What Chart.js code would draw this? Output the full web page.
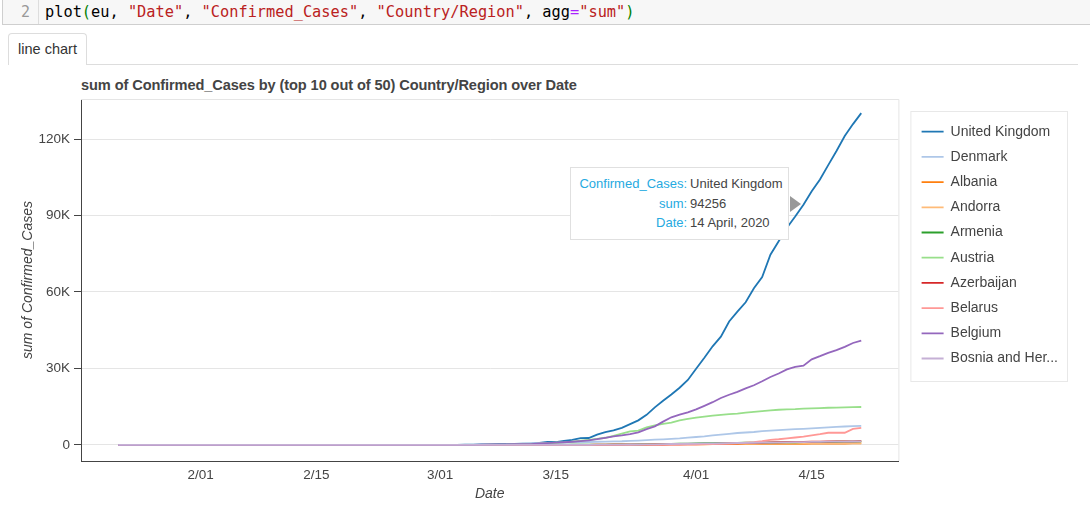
<!DOCTYPE html>
<html>
<head>
<meta charset="utf-8">
<script src="https://cdn.jsdelivr.net/npm/chart.js@4.4.1/dist/chart.umd.min.js"></script>
<style>
  body { margin: 0; width: 1090px; height: 507px; position: relative; overflow: hidden; background: #fff;
         font-family: "Liberation Sans", Arial, Helvetica, sans-serif; color: #444; }
  #cell { position: absolute; left: 2px; top: -12px; right: -5px; height: 35px; background: #f7f7f7; border: 1px solid #cfcfcf; }
  #gutter { position: absolute; left: 0; top: 0; width: 35px; height: 35px; border-right: 1px solid #ddd; }
  #gutter span { position: absolute; right: 8px; top: 11px; font: 15px "DejaVu Sans Mono", monospace; color: #999; line-height: 24px; }
  #code { position: absolute; left: 42px; top: 11px; font: 15.3px "DejaVu Sans Mono", monospace; line-height: 24px; color: #000; white-space: pre; }
  #code .s { color: #ba2121; } #code .o { color: #aa22ff; } #code .p { color: #008000; }
  #tabline { position: absolute; left: 8px; top: 64px; width: 1070px; border-top: 1px solid #ddd; }
  #tab { position: absolute; left: 8px; top: 33px; width: 77px; height: 31px; border: 1px solid #ddd; border-bottom: none;
         border-radius: 4px 4px 0 0; background: #fff; font-size: 14.5px; line-height: 31px; text-align: center; color: #333; }
  #title { position: absolute; left: 81px; top: 77px; font-size: 14.6px; font-weight: bold; line-height: 17px; color: #444;
           white-space: nowrap; letter-spacing: -0.1px; }
  #chart { position: absolute; left: 0; top: 70px; }
  #tip { position: absolute; display: none; background: #fff; border: 1px solid #e0e0e0; padding: 6px 5px 6px 8px; font-size: 13px; }
  #tip table { border-collapse: collapse; }
  #tip td { padding: 0; line-height: 19.5px; white-space: nowrap; }
  #tip td.k { color: #26aae1; text-align: right; padding-right: 3px; }
  #tip td.v { color: #444; }
  #tipArrow { position: absolute; display: none; width: 0; height: 0; border-left: 11px solid #999;
              border-top: 8px solid transparent; border-bottom: 8px solid transparent; }
</style>
</head>
<body>
<div id="cell">
  <div id="gutter"><span>2</span></div>
  <div id="code">plot<span class="p">(</span>eu, <span class="s">"Date"</span>, <span class="s">"Confirmed_Cases"</span>, <span class="s">"Country/Region"</span>, agg<span class="o">=</span><span class="s">"sum"</span><span class="p">)</span></div>
</div>
<div id="tabline"></div>
<div id="tab">line chart</div>
<div id="title">sum of Confirmed_Cases by (top 10 out of 50) Country/Region over Date</div>
<canvas id="chart" width="1090" height="437"></canvas>
<div id="tip"></div>
<div id="tipArrow"></div>
<script>
// daily totals from 22 Jan 2020 (index 0) to 21 Apr 2020 (index 90)
const countries = ['United Kingdom', 'Denmark', 'Albania', 'Andorra', 'Armenia', 'Austria',
                   'Azerbaijan', 'Belarus', 'Belgium', 'Bosnia and Herzegovina'];
const colors = ['#1f77b4', '#aec7e8', '#ff7f0e', '#ffbb78', '#2ca02c', '#98df8a',
                '#d62728', '#ff9896', '#9467bd', '#c5b0d5'];

const unitedKingdom = [
  0, 0, 0, 0, 0, 0, 0, 0, 0, 2,
  2, 2, 2, 2, 2, 2, 3, 3, 3, 8, 8, 9, 9, 9, 9, 9, 9, 9, 9, 9, 9, 9, 9, 13, 13, 13, 15, 20, 23,
  36, 40, 51, 86, 116, 164, 207, 274, 322, 384, 459, 459, 802, 1144, 1145, 1551, 1960, 2642, 2716, 4014,
  5067, 5745, 6726, 8164, 9640, 11812, 14745, 17312, 19780, 22453, 25481,
  29865, 34173, 38689, 42477, 48436, 52279, 55949, 61474, 65872, 74605, 79874, 85206, 89570, 94256,
  99483, 104145, 109769, 115314, 121172, 125856, 130172
];
const denmark = [
  0, 0, 0, 0, 0, 0, 0, 0, 0, 0,
  0, 0, 0, 0, 0, 0, 0, 0, 0, 0, 0, 0, 0, 0, 0, 0, 0, 0, 0, 0, 0, 0, 0, 0, 0, 0, 1, 1, 1,
  3, 4, 4, 6, 11, 23, 23, 35, 90, 262, 442, 615, 801, 827, 864, 914, 977, 1057, 1151, 1255,
  1326, 1395, 1450, 1591, 1724, 1877, 2046, 2201, 2395, 2577, 2860,
  3107, 3386, 3757, 4077, 4369, 4681, 4875, 5071, 5402, 5635, 5819, 5996, 6191, 6318,
  6511, 6681, 6879, 7073, 7242, 7384, 7515
];
const albania = [
  0, 0, 0, 0, 0, 0, 0, 0, 0, 0,
  0, 0, 0, 0, 0, 0, 0, 0, 0, 0, 0, 0, 0, 0, 0, 0, 0, 0, 0, 0, 0, 0, 0, 0, 0, 0, 0, 0, 0,
  0, 0, 0, 0, 0, 0, 0, 0, 2, 10, 12, 23, 33, 38, 42, 51, 55, 59, 64, 70,
  76, 89, 104, 123, 146, 174, 186, 197, 212, 223, 243,
  259, 277, 304, 333, 361, 377, 383, 400, 409, 416, 433, 446, 467, 475,
  494, 518, 539, 548, 562, 584, 609
];
const andorra = [
  0, 0, 0, 0, 0, 0, 0, 0, 0, 0,
  0, 0, 0, 0, 0, 0, 0, 0, 0, 0, 0, 0, 0, 0, 0, 0, 0, 0, 0, 0, 0, 0, 0, 0, 0, 0, 0, 0, 0,
  0, 1, 1, 1, 1, 1, 1, 1, 1, 1, 1, 1, 1, 1, 1, 2, 39, 39, 53, 75,
  88, 113, 133, 164, 188, 224, 267, 308, 334, 370, 376,
  390, 428, 439, 466, 501, 525, 545, 564, 583, 601, 601, 638, 646, 659,
  673, 673, 696, 704, 713, 717, 717
];
const armenia = [
  0, 0, 0, 0, 0, 0, 0, 0, 0, 0,
  0, 0, 0, 0, 0, 0, 0, 0, 0, 0, 0, 0, 0, 0, 0, 0, 0, 0, 0, 0, 0, 0, 0, 0, 0, 0, 0, 0, 0,
  1, 1, 1, 1, 1, 1, 1, 1, 1, 1, 1, 4, 8, 18, 26, 52, 78, 84, 115, 136,
  160, 194, 235, 249, 265, 290, 329, 407, 424, 482, 532,
  571, 663, 736, 770, 822, 833, 853, 881, 921, 937, 967, 1013, 1039, 1067,
  1111, 1159, 1201, 1248, 1291, 1339, 1401
];
const austria = [
  0, 0, 0, 0, 0, 0, 0, 0, 0, 0,
  0, 0, 0, 0, 0, 0, 0, 0, 0, 0, 0, 0, 0, 0, 0, 0, 0, 0, 0, 0, 0, 0, 0, 0, 2, 2, 3, 3, 9,
  14, 18, 21, 29, 41, 55, 79, 104, 131, 182, 246, 302, 504, 655, 860, 1018, 1332, 1646, 2013, 2388,
  2814, 3582, 4474, 5283, 5588, 6909, 7657, 8271, 8788, 9618, 10180,
  10711, 11129, 11524, 11781, 12051, 12297, 12639, 12942, 13244, 13555, 13806, 13945, 14041, 14226,
  14336, 14476, 14595, 14671, 14749, 14795, 14873
];
const azerbaijan = [
  0, 0, 0, 0, 0, 0, 0, 0, 0, 0,
  0, 0, 0, 0, 0, 0, 0, 0, 0, 0, 0, 0, 0, 0, 0, 0, 0, 0, 0, 0, 0, 0, 0, 0, 0, 0, 0, 1, 1,
  3, 3, 3, 3, 6, 6, 9, 9, 9, 11, 11, 11, 15, 15, 23, 28, 28, 28, 44, 44,
  53, 65, 72, 87, 93, 122, 165, 182, 209, 273, 298,
  359, 400, 443, 521, 584, 641, 717, 822, 926, 991, 1058, 1098, 1148, 1197,
  1253, 1283, 1340, 1373, 1398, 1436, 1480
];
const belarus = [
  0, 0, 0, 0, 0, 0, 0, 0, 0, 0,
  0, 0, 0, 0, 0, 0, 0, 0, 0, 0, 0, 0, 0, 0, 0, 0, 0, 0, 0, 0, 0, 0, 0, 0, 0, 0, 0, 1, 1,
  1, 1, 1, 6, 6, 6, 6, 6, 6, 9, 9, 12, 27, 27, 27, 36, 36, 51, 51, 69,
  76, 76, 81, 81, 86, 86, 94, 94, 94, 152, 152,
  163, 304, 351, 440, 562, 700, 861, 1066, 1486, 1981, 2226, 2578, 2919, 3281,
  3728, 4204, 4779, 4779, 4779, 6264, 6723
];
const belgium = [
  0, 0, 0, 0, 0, 0, 0, 0, 0, 0,
  0, 0, 0, 1, 1, 1, 1, 1, 1, 1, 1, 1, 1, 1, 1, 1, 1, 1, 1, 1, 1, 1, 1, 1, 1, 1, 1, 1, 1,
  2, 8, 13, 23, 50, 109, 169, 200, 239, 267, 314, 314, 559, 689, 886, 1058, 1243, 1486, 1795, 2257,
  2815, 3401, 3743, 4269, 4937, 6235, 7284, 9134, 10836, 11899, 12775,
  13964, 15348, 16770, 18431, 19691, 20814, 22194, 23403, 24983, 26667, 28018, 29647, 30589, 31119,
  33573, 34809, 36138, 37183, 38496, 39983, 40956
];
const bosnia = [
  0, 0, 0, 0, 0, 0, 0, 0, 0, 0,
  0, 0, 0, 0, 0, 0, 0, 0, 0, 0, 0, 0, 0, 0, 0, 0, 0, 0, 0, 0, 0, 0, 0, 0, 0, 0, 0, 0, 0,
  0, 0, 0, 0, 2, 2, 3, 3, 3, 3, 4, 11, 13, 18, 24, 25, 26, 38, 63, 89,
  93, 126, 136, 166, 176, 237, 258, 323, 368, 420, 459,
  533, 579, 624, 654, 674, 764, 804, 858, 901, 946, 1009, 1037, 1083, 1110,
  1167, 1214, 1268, 1285, 1309, 1342, 1368
];
const series = [unitedKingdom, denmark, albania, andorra, armenia, austria, azerbaijan, belarus, belgium, bosnia];

const xTickDays = [10, 24, 39, 53, 70, 84];
const xTickLabels = ['2/01', '2/15', '3/01', '3/15', '4/01', '4/15'];
const yTicks = [0, 30000, 60000, 90000, 120000];
const months = ['January', 'February', 'March', 'April', 'May', 'June', 'July',
                'August', 'September', 'October', 'November', 'December'];
const hoverCountry = 0, hoverDay = 83;

Chart.defaults.font.family = '"Liberation Sans", Arial, Helvetica, sans-serif';
Chart.defaults.color = '#444';

function drawTip(context) {
  const tip = context.tooltip;
  const box = document.getElementById('tip');
  const arrow = document.getElementById('tipArrow');
  if (tip.opacity === 0 || !tip.dataPoints || !tip.dataPoints.length) {
    box.style.display = 'none';
    arrow.style.display = 'none';
    return;
  }
  const p = tip.dataPoints[0];
  const d = new Date(2020, 0, 22 + p.parsed.x);
  const rows = [
    ['Confirmed_Cases', p.dataset.label],
    ['sum', p.parsed.y],
    ['Date', d.getDate() + ' ' + months[d.getMonth()] + ', ' + d.getFullYear()]
  ];
  box.innerHTML = '<table>' + rows.map(r => '<tr><td class="k">' + r[0] + ':</td><td class="v">' + r[1] + '</td></tr>').join('') + '</table>';
  box.style.display = 'block';
  arrow.style.display = 'block';
  const cv = context.chart.canvas;
  const cx = cv.offsetLeft + tip.caretX, cy = cv.offsetTop + tip.caretY;
  box.style.left = (cx - 15 - box.offsetWidth) + 'px';
  box.style.top = (cy - 1 - box.offsetHeight / 2) + 'px';
  arrow.style.left = (cx - 13) + 'px';
  arrow.style.top = (cy - 9) + 'px';
}

// light outline on top and right of the plot, plus the legend frame
const framePlugin = {
  id: 'frame',
  beforeDatasetsDraw(chart) {
    const {ctx, chartArea: a} = chart;
    ctx.save();
    ctx.strokeStyle = '#e5e5e5';
    ctx.lineWidth = 1;
    ctx.beginPath();
    ctx.moveTo(a.left, a.top + 0.5);
    ctx.lineTo(a.right + 0.5, a.top + 0.5);
    ctx.lineTo(a.right + 0.5, a.bottom);
    ctx.stroke();
    ctx.restore();
  },
  afterDraw(chart) {
    const lg = chart.legend, boxes = lg.legendHitBoxes;
    if (!boxes.length) return;
    const last = boxes[boxes.length - 1];
    const top = boxes[0].top - 14, bottom = last.top + last.height + 15;
    const ctx = chart.ctx;
    ctx.save();
    ctx.strokeStyle = '#e8e8e8';
    ctx.lineWidth = 1;
    ctx.strokeRect(lg.left + 0.5, Math.round(top) + 0.5, lg.width - 1, Math.round(bottom - top));
    ctx.restore();
  }
};

const chart = new Chart(document.getElementById('chart'), {
  type: 'line',
  data: {
    datasets: series.map((vals, i) => ({
      label: countries[i],
      data: vals.map((y, day) => ({x: day, y})),
      borderColor: colors[i],
      backgroundColor: colors[i],
      borderWidth: 1.8,
      pointRadius: 0,
      tension: 0,
      order: countries.length - 1 - i
    }))
  },
  options: {
    responsive: false,
    animation: false,
    events: [],
    layout: {padding: {top: 29, right: 22, bottom: 0, left: 0}},
    plugins: {
      legend: {
        position: 'right',
        align: 'start',
        fullSize: false,
        title: {display: true, text: '', font: {size: 12, lineHeight: 1}, padding: {top: 2.5, bottom: 0}},
        labels: {
          usePointStyle: true,
          pointStyle: 'line',
          pointStyleWidth: 22,
          padding: 11.2,
          color: '#444',
          font: {size: 14},
          sort: (a, b) => a.datasetIndex - b.datasetIndex,
          generateLabels: c => Chart.defaults.plugins.legend.labels.generateLabels(c).map(l => {
            if (l.text.length > 15) l.text = l.text.slice(0, 14) + '...';
            return l;
          })
        }
      },
      tooltip: {enabled: false, mode: 'nearest', intersect: false, external: drawTip}
    },
    scales: {
      x: {
        type: 'linear',
        min: -4.5,
        max: 94.5,
        afterBuildTicks: s => { s.ticks = xTickDays.map(v => ({value: v})); },
        afterFit: s => { s.height = 46; },
        grid: {drawOnChartArea: false, drawTicks: false},
        border: {color: '#444', width: 1},
        ticks: {
          callback: v => xTickLabels[xTickDays.indexOf(v)],
          color: '#444', font: {size: 13.5}, padding: 6, maxRotation: 0, autoSkip: false
        },
        title: {display: true, text: 'Date', color: '#444', font: {size: 14, style: 'italic'}, padding: {top: 0, bottom: 4.6}}
      },
      y: {
        type: 'linear',
        min: -6300,
        max: 135700,
        afterBuildTicks: s => { s.ticks = yTicks.map(v => ({value: v})); },
        afterFit: s => { s.width = 81; },
        grid: {color: '#e5e5e5', tickColor: '#444', tickLength: 7},
        border: {color: '#444', width: 1},
        ticks: {callback: v => v === 0 ? '0' : (v / 1000) + 'K', color: '#444', font: {size: 13.5}, padding: 4},
        title: {display: true, text: 'sum of Confirmed_Cases', color: '#444', font: {size: 14, style: 'italic'}, padding: {top: 19.6, bottom: 0}}
      },
      gap: {
        type: 'linear',
        position: 'right',
        display: true,
        grid: {display: false},
        border: {display: false},
        ticks: {display: false},
        afterFit: s => { s.width = 12; }
      }
    }
  },
  plugins: [framePlugin]
});

chart.tooltip.setActiveElements([{datasetIndex: hoverCountry, index: hoverDay}], {x: 0, y: 0});
</script>
</body>
</html>
